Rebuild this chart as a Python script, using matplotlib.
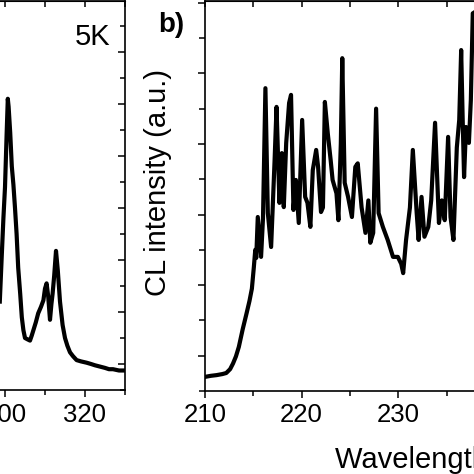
import matplotlib.pyplot as plt
from matplotlib.ticker import MultipleLocator

plt.rcParams['font.family'] = ['Liberation Sans', 'DejaVu Sans']

# panel a (5K spectrum), only the right end is visible
wl_a = [298.7, 299.2, 299.6, 300.0, 300.4, 300.7, 300.9, 301.3, 301.7, 302.1,
        302.5, 302.9, 303.3, 303.8, 304.2, 304.6, 305.0, 305.6, 306.25, 306.7,
        307.1, 307.7, 308.3, 309.0, 309.6, 310.0, 310.4, 310.8, 311.25, 311.6,
        311.9, 312.3, 312.75, 313.2, 313.75, 314.4, 315.0, 315.6, 316.25, 317.0,
        317.9, 319.0, 320.4, 321.5, 322.5, 323.75, 325.0, 326.0, 327.0, 328.5,
        330.0]
int_a = [2.4, 4.2, 5.6, 6.8, 8.8, 10.2, 9.9, 8.9, 7.6, 6.9,
         6.0, 5.0, 3.7, 2.7, 1.8, 1.3, 1.0, 0.95, 0.9, 1.1,
         1.3, 1.6, 1.95, 2.2, 2.45, 2.9, 3.1, 2.6, 1.7, 2.3,
         2.7, 3.4, 4.35, 3.6, 2.4, 1.5, 1.0, 0.7, 0.45, 0.3,
         0.15, 0.1, 0.05, 0.0, -0.05, -0.1, -0.15, -0.2, -0.2, -0.25,
         -0.25]

# panel b spectrum
wl_b = [210.0, 210.6, 211.2, 211.8, 212.2, 212.6, 212.9, 213.2, 213.5, 213.9,
        214.3, 214.6, 214.85, 215.05, 215.2, 215.3, 215.46, 215.8, 216.0, 216.25,
        216.5, 216.84, 217.2, 217.4, 217.7, 217.95, 218.15, 218.4, 218.7, 218.9,
        219.15, 219.4, 219.7, 220.05, 220.36, 220.6, 220.9, 221.15, 221.5, 221.7,
        222.0, 222.2, 222.4, 222.7, 223.0, 223.2, 223.6, 223.8, 224.05, 224.2,
        224.45, 224.8, 225.2, 225.55, 225.8, 226.2, 226.6, 226.9, 227.1, 227.4,
        227.7, 227.96, 228.4, 228.9, 229.45, 229.95, 230.3, 230.5, 230.8, 231.2,
        231.5, 231.9, 232.1, 232.4, 232.7, 233.1, 233.4, 233.8, 234.2, 234.5,
        234.8, 235.15, 235.4, 235.7, 236.05, 236.3, 236.5, 236.65, 236.8, 237.0,
        237.3, 237.5, 237.7, 238.0, 238.4]
int_b = [-0.6, -0.57, -0.55, -0.52, -0.49, -0.38, -0.22, -0.02, 0.25, 0.75,
         1.2, 1.55, 1.9, 2.5, 3.0, 2.77, 3.93, 2.8, 3.9, 7.58,
         4.04, 3.08, 5.54, 7.05, 4.33, 5.74, 4.21, 6.03, 7.16, 7.39,
         4.13, 4.98, 3.76, 6.68, 4.5, 4.33, 3.65, 5.26, 5.83, 5.35,
         4.07, 4.2, 7.19, 6.3, 5.54, 4.98, 4.6, 3.84, 6.0, 8.43,
         4.9, 4.5, 3.93, 5.35, 5.45, 4.2, 3.48, 4.4, 3.2, 3.48,
         7.0, 4.04, 3.65, 3.28, 2.8, 2.8, 2.6, 2.34, 3.28, 4.2,
         5.83, 4.04, 3.28, 4.5, 3.37, 3.65, 4.4, 6.6, 3.76, 4.4,
         3.84, 6.2, 3.93, 3.28, 5.9, 6.68, 8.66, 6.77, 5.06, 6.48,
         6.03, 7.24, 9.7, 9.75, 9.8]

W, H = 474, 474
fig = plt.figure(figsize=(W / 100, H / 100), dpi=100)

# panel a axes: right spine at x=125 px, 4 px per nm
ax_a = fig.add_axes([-195 / W, (H - 390) / H, 320 / W, 389 / H])
# panel b axes: left spine at x=205 px, ~9.65 px per nm
ax_b = fig.add_axes([205 / W, (H - 391) / H, 290 / W, 390 / H])

ax_a.plot(wl_a, int_a, color='black', lw=3.0)
ax_a.set_xlim(250, 330)
ax_a.set_ylim(-1, 13.96)
ax_b.plot(wl_b, int_b, color='black', lw=3.0)
ax_b.set_xlim(210, 240)
ax_b.set_ylim(-1, 10.05)

ax_a.xaxis.set_major_locator(MultipleLocator(20))
ax_a.xaxis.set_minor_locator(MultipleLocator(10))
ax_b.xaxis.set_major_locator(MultipleLocator(10))
ax_b.xaxis.set_minor_locator(MultipleLocator(5))
for ax in (ax_a, ax_b):
    ax.yaxis.set_major_locator(MultipleLocator(2))
    ax.yaxis.set_minor_locator(MultipleLocator(1))
    ax.tick_params(axis='x', which='both', direction='out', top=False,
                   labelsize=18.5, width=1.1, pad=4)
    ax.tick_params(axis='x', which='major', length=5)
    ax.tick_params(axis='x', which='minor', length=3.5)
    for sp in ax.spines.values():
        sp.set_linewidth(1.2)

# inward ticks along the top spines
for ax in (ax_a, ax_b):
    top = ax.secondary_xaxis('top')
    top.set_xticks(ax.get_xticks(minor=True), minor=True)
    top.tick_params(which='both', direction='in', length=4, width=1.1,
                    labeltop=False)

ax_a.tick_params(axis='y', which='both', left=False, right=True,
                 labelleft=False, direction='in', width=1.1)
ax_a.tick_params(axis='y', which='major', length=5)
ax_a.tick_params(axis='y', which='minor', length=3.5)
ax_b.tick_params(axis='y', which='both', labelleft=False, direction='out',
                 width=1.1)
ax_b.tick_params(axis='y', which='major', length=5)
ax_b.tick_params(axis='y', which='minor', length=4)

fig.text(110 / W, (H - 45) / H, '5K', fontsize=21, ha='right', va='baseline')
fig.text(158 / W, (H - 25) / H, 'b)', fontsize=20, fontweight='bold',
         ha='left', va='center')
fig.text(158 / W, 1 - 183 / H, 'CL intensity (a.u.)', fontsize=21,
         rotation=90, ha='center', va='center')
fig.text(335 / W, (H - 468) / H, 'Wavelength (nm)', fontsize=21,
         ha='left', va='baseline')

fig.savefig('out.png', dpi=100)
